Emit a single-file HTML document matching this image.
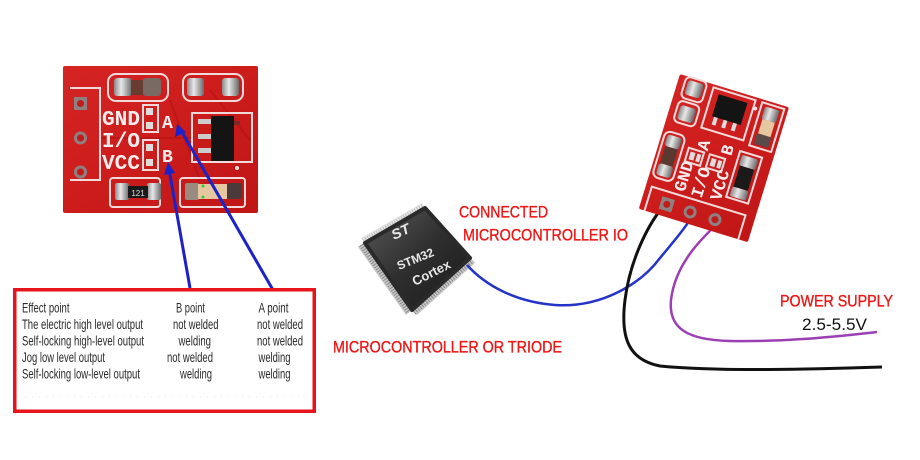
<!DOCTYPE html>
<html><head><meta charset="utf-8"><style>
html,body{margin:0;padding:0;background:#fff;}
svg{display:block;}
</style></head><body>
<svg width="920" height="460" viewBox="0 0 920 460" xmlns="http://www.w3.org/2000/svg">
<defs>
<linearGradient id="pcb" x1="0" y1="0" x2="1" y2="1">
<stop offset="0" stop-color="#d42424"/><stop offset="0.5" stop-color="#cc1c1c"/><stop offset="1" stop-color="#c01616"/>
</linearGradient>
<linearGradient id="pad" x1="0" y1="0" x2="1" y2="0">
<stop offset="0" stop-color="#8a8a8a"/><stop offset="0.4" stop-color="#e8e8e8"/><stop offset="1" stop-color="#6a6a6a"/>
</linearGradient>
<linearGradient id="chip" x1="0" y1="0" x2="1" y2="1">
<stop offset="0" stop-color="#5a5a5a"/><stop offset="0.5" stop-color="#2e2e2e"/><stop offset="1" stop-color="#1a1a1a"/>
</linearGradient>
</defs>
<rect width="920" height="460" fill="#fff"/>

<!-- LEFT BOARD -->
<rect x="63" y="66" width="195" height="147" rx="2" fill="url(#pcb)"/>
<g fill="none" stroke="#b81212" stroke-width="2" opacity="0.7">
<path d="M100 138 H190 M210 90 L250 140 M170 100 L200 180"/>
</g>
<g fill="none" stroke="#f0dada" stroke-width="2">
<path d="M70 88 H100 V180 H70"/>
<rect x="108" y="74" width="60" height="27" rx="8"/>
<rect x="183" y="74" width="60" height="27" rx="8"/>
<rect x="143" y="105" width="15" height="27"/>
<rect x="143" y="140" width="15" height="30"/>
<rect x="192" y="113" width="60" height="49"/>
<rect x="110" y="178" width="50" height="29" rx="3"/>
<rect x="180" y="178" width="65" height="29" rx="3"/>
</g>
<!-- holes -->
<rect x="74" y="97" width="13" height="13" fill="#8e8080"/>
<circle cx="80.5" cy="103.5" r="3.5" fill="#c01a1a"/>
<circle cx="80.5" cy="138" r="6.5" fill="#8e8080"/><circle cx="80.5" cy="138" r="3.5" fill="#c01a1a"/>
<circle cx="80.5" cy="172" r="6.5" fill="#8e8080"/><circle cx="80.5" cy="172" r="3.5" fill="#c01a1a"/>
<!-- top pads -->
<rect x="114" y="78" width="18" height="18" rx="3" fill="url(#pad)"/>
<rect x="131" y="80" width="12" height="15" fill="#6a3c30"/>
<rect x="143" y="78" width="18" height="18" rx="3" fill="#7a6a66"/>
<rect x="187" y="78" width="17" height="18" rx="3" fill="url(#pad)"/>
<rect x="222" y="78" width="17" height="18" rx="3" fill="url(#pad)"/>
<!-- small pads -->
<rect x="146" y="108" width="7" height="7" fill="#ddd"/>
<rect x="146" y="122" width="7" height="7" fill="#ddd"/>
<rect x="146" y="144" width="7" height="7" fill="#ddd"/>
<rect x="146" y="159" width="7" height="7" fill="#ddd"/>
<!-- IC -->
<rect x="198" y="119" width="14" height="5" fill="#ccc"/>
<rect x="198" y="134" width="14" height="5" fill="#ccc"/>
<rect x="198" y="148" width="14" height="5" fill="#ccc"/>
<rect x="211" y="116" width="23" height="45" fill="#141414"/>
<rect x="234" y="121" width="6" height="4" fill="#7a2a2a"/>
<circle cx="237" cy="168" r="2" fill="#f2e0e0"/>
<!-- resistor -->
<rect x="115" y="183" width="14" height="17" rx="2" fill="url(#pad)"/>
<rect x="147" y="183" width="14" height="17" rx="2" fill="url(#pad)"/>
<rect x="128" y="186" width="20" height="12" fill="#1a1a1a"/>
<text x="138" y="196" font-family="Liberation Sans, sans-serif" font-size="8" fill="#ddd" text-anchor="middle">121</text>
<!-- LED -->
<rect x="185" y="183" width="14" height="17" rx="2" fill="#9a8a80"/>
<rect x="198" y="184" width="29" height="15" fill="#e6c8a0"/>
<circle cx="203" cy="186" r="1.5" fill="#3c3"/><circle cx="203" cy="197" r="1.5" fill="#3c3"/>
<rect x="227" y="183" width="15" height="16" rx="2" fill="#4a3a3a"/>
<!-- labels -->
<g font-family="Liberation Mono, monospace" font-weight="bold" fill="#f6eeee">
<text x="102" y="125" font-size="21" textLength="38" lengthAdjust="spacingAndGlyphs">GND</text>
<text x="102" y="147" font-size="21" textLength="38" lengthAdjust="spacingAndGlyphs">I/O</text>
<text x="102" y="169" font-size="21" textLength="38" lengthAdjust="spacingAndGlyphs">VCC</text>
<text x="162" y="128" font-size="18">A</text>
<text x="162" y="162" font-size="18">B</text>
</g>

<!-- blue arrows -->
<g stroke="#1c22c8" stroke-width="3" fill="#1c22c8">
<line x1="190" y1="288" x2="169.5" y2="172"/>
<line x1="273" y1="290" x2="182" y2="132"/>
</g>
<polygon points="168,162 164,175 175,173" fill="#1c22c8"/>
<polygon points="177,124 175,137 186,132" fill="#1c22c8"/>

<!-- TABLE -->
<rect x="14.75" y="289.75" width="299.5" height="121.5" fill="#fff" stroke="#e8141c" stroke-width="3.5"/>
<line x1="18" y1="397" x2="312" y2="397" stroke="#e4e4e4" stroke-width="1" stroke-dasharray="1 6"/>
<g font-family="Liberation Sans, Arial, sans-serif" font-size="14" fill="#2a2a2a">
<text x="22" y="312.5" textLength="47.5" lengthAdjust="spacingAndGlyphs">Effect point</text>
<text x="22" y="329" textLength="121" lengthAdjust="spacingAndGlyphs">The electric high level output</text>
<text x="22" y="345.5" textLength="122" lengthAdjust="spacingAndGlyphs">Self-locking high-level output</text>
<text x="22" y="362" textLength="83" lengthAdjust="spacingAndGlyphs">Jog low level output</text>
<text x="22" y="378.5" textLength="118" lengthAdjust="spacingAndGlyphs">Self-locking low-level output</text>
<text x="176" y="312.5" textLength="29" lengthAdjust="spacingAndGlyphs">B point</text>
<text x="173" y="329" textLength="45.5" lengthAdjust="spacingAndGlyphs">not welded</text>
<text x="178.5" y="345.5" textLength="32.5" lengthAdjust="spacingAndGlyphs">welding</text>
<text x="167" y="362" textLength="46" lengthAdjust="spacingAndGlyphs">not welded</text>
<text x="180" y="378.5" textLength="32" lengthAdjust="spacingAndGlyphs">welding</text>
<text x="258.5" y="312.5" textLength="30" lengthAdjust="spacingAndGlyphs">A point</text>
<text x="257" y="329" textLength="46" lengthAdjust="spacingAndGlyphs">not welded</text>
<text x="257" y="345.5" textLength="46" lengthAdjust="spacingAndGlyphs">not welded</text>
<text x="258.5" y="362" textLength="32" lengthAdjust="spacingAndGlyphs">welding</text>
<text x="258.5" y="378.5" textLength="32" lengthAdjust="spacingAndGlyphs">welding</text>
</g>

<!-- CHIP -->
<polygon points="365,243 412,310 406,315 358,247" fill="#c8c8c8"/>
<line x1="361" y1="245" x2="409" y2="312.5" stroke="#888" stroke-width="5" stroke-dasharray="1 1.6"/>
<polygon points="412,310 470,258 475,263 417,315" fill="#c8c8c8"/>
<line x1="414" y1="312.5" x2="472.5" y2="260.5" stroke="#888" stroke-width="5" stroke-dasharray="1 1.6"/>
<polygon points="365,243 425,208 422,203 361,238" fill="#e4e4e4"/>
<line x1="363" y1="240.5" x2="423.5" y2="205.5" stroke="#c0c0c0" stroke-width="4" stroke-dasharray="1 1.6"/>
<path d="M365,243 L425,208 L470,258 L412,310 Z" fill="url(#chip)" stroke="#2a2a2a" stroke-width="4" stroke-linejoin="round"/>
<g fill="#e8e8e8" font-family="Liberation Sans, sans-serif" font-weight="bold">
<text transform="translate(394,240) rotate(-25)" font-size="14" font-style="italic" textLength="19" lengthAdjust="spacingAndGlyphs">ST</text>
<text transform="translate(399,270) rotate(-22)" font-size="12">STM32</text>
<text transform="translate(415,286) rotate(-27)" font-size="13">Cortex</text>
</g>

<!-- WIRES -->
<path d="M467,265 C485,285 515,302 555,305 C600,308 640,285 660,258 C675,240 685,228 691,218" fill="none" stroke="#2433c8" stroke-width="2.5"/>
<path d="M717,224 C700,240 675,265 671,300 C668,330 690,340 730,341 C790,342 840,336 877,332" fill="none" stroke="#9c3fb5" stroke-width="2.5"/>
<path d="M662,208 C648,225 630,260 625,300 C620,340 630,360 660,366 C720,372 820,369 882,367" fill="none" stroke="#111" stroke-width="3"/>

<!-- RIGHT BOARD -->
<g transform="translate(680,74) rotate(17)">
<rect x="0" y="0" width="114" height="141" rx="2" fill="url(#pcb)"/>
<g fill="none" stroke="#f0dada" stroke-width="2">
<path d="M6 141 V116 H104 V141"/>
<rect x="7" y="0" width="22" height="22" rx="5"/>
<rect x="7" y="25" width="22" height="22" rx="5"/>
<rect x="36" y="3" width="44" height="42"/>
<rect x="3" y="58" width="21" height="48" rx="6"/>
<rect x="87" y="3" width="23" height="45"/>
<rect x="80" y="56" width="23" height="48"/>
<rect x="30" y="68" width="16" height="14"/>
<rect x="52" y="68" width="16" height="14"/>
</g>
<rect x="10" y="3" width="16" height="15" rx="3" fill="url(#pad)"/>
<rect x="10" y="29" width="16" height="15" rx="3" fill="url(#pad)"/>
<rect x="6" y="61" width="15" height="12" rx="3" fill="url(#pad)"/>
<rect x="7" y="73" width="13" height="18" fill="#5a3a30"/>
<rect x="6" y="91" width="15" height="12" rx="3" fill="url(#pad)"/>
<rect x="43" y="8" width="30" height="23" fill="#141414"/>
<rect x="45" y="31" width="4" height="8" fill="#ddd"/>
<rect x="55" y="31" width="4" height="8" fill="#ddd"/>
<rect x="65" y="31" width="4" height="8" fill="#ddd"/>
<circle cx="82" cy="11" r="2" fill="#f2e0e0"/>
<rect x="91" y="6" width="15" height="13" rx="2" fill="url(#pad)"/>
<rect x="92" y="19" width="13" height="15" fill="#e6c8a0"/>
<rect x="91" y="34" width="15" height="11" rx="2" fill="#5a4a4a"/>
<rect x="83" y="59" width="17" height="11" rx="2" fill="url(#pad)"/>
<rect x="84" y="70" width="15" height="22" fill="#1a1a1a"/>
<rect x="83" y="92" width="17" height="10" rx="2" fill="url(#pad)"/>
<rect x="33" y="71" width="5" height="8" fill="#ddd"/><rect x="40" y="71" width="4" height="8" fill="#ddd"/>
<rect x="55" y="71" width="5" height="8" fill="#ddd"/><rect x="62" y="71" width="4" height="8" fill="#ddd"/>
<g fill="#8e8080"><rect x="19" y="122" width="13" height="13"/><circle cx="50" cy="129" r="6.5"/><circle cx="76" cy="129" r="6.5"/></g>
<g fill="#c01a1a"><circle cx="25.5" cy="128.5" r="3.5"/><circle cx="50" cy="129" r="3.5"/><circle cx="76" cy="129" r="3.5"/></g>
<g font-family="Liberation Mono, monospace" font-weight="bold" fill="#f6eeee" font-size="17">
<text transform="translate(39,112) rotate(-90)" textLength="31" lengthAdjust="spacingAndGlyphs">GND</text>
<text transform="translate(57,113) rotate(-90)" textLength="31" lengthAdjust="spacingAndGlyphs">I/O</text>
<text transform="translate(76,110) rotate(-90)" textLength="31" lengthAdjust="spacingAndGlyphs">VCC</text>
<text transform="translate(49,66) rotate(-90)">A</text>
<text transform="translate(73,64) rotate(-90)">B</text>
</g>
</g>

<!-- RED LABELS -->
<g font-family="Liberation Sans, Arial, sans-serif" font-size="17" fill="#f01414" stroke="#f01414" stroke-width="0.35">
<text x="459" y="217.5" textLength="89" lengthAdjust="spacingAndGlyphs">CONNECTED</text>
<text x="463" y="240.5" textLength="165" lengthAdjust="spacingAndGlyphs">MICROCONTROLLER IO</text>
<text x="333" y="352.5" textLength="229" lengthAdjust="spacingAndGlyphs">MICROCONTROLLER OR TRIODE</text>
<text x="780" y="306.5" textLength="113" lengthAdjust="spacingAndGlyphs">POWER SUPPLY</text>
</g>
<text x="802" y="330" font-family="Liberation Sans, Arial, sans-serif" font-size="17" fill="#111" textLength="65" lengthAdjust="spacingAndGlyphs">2.5-5.5V</text>
</svg>
</body></html>
